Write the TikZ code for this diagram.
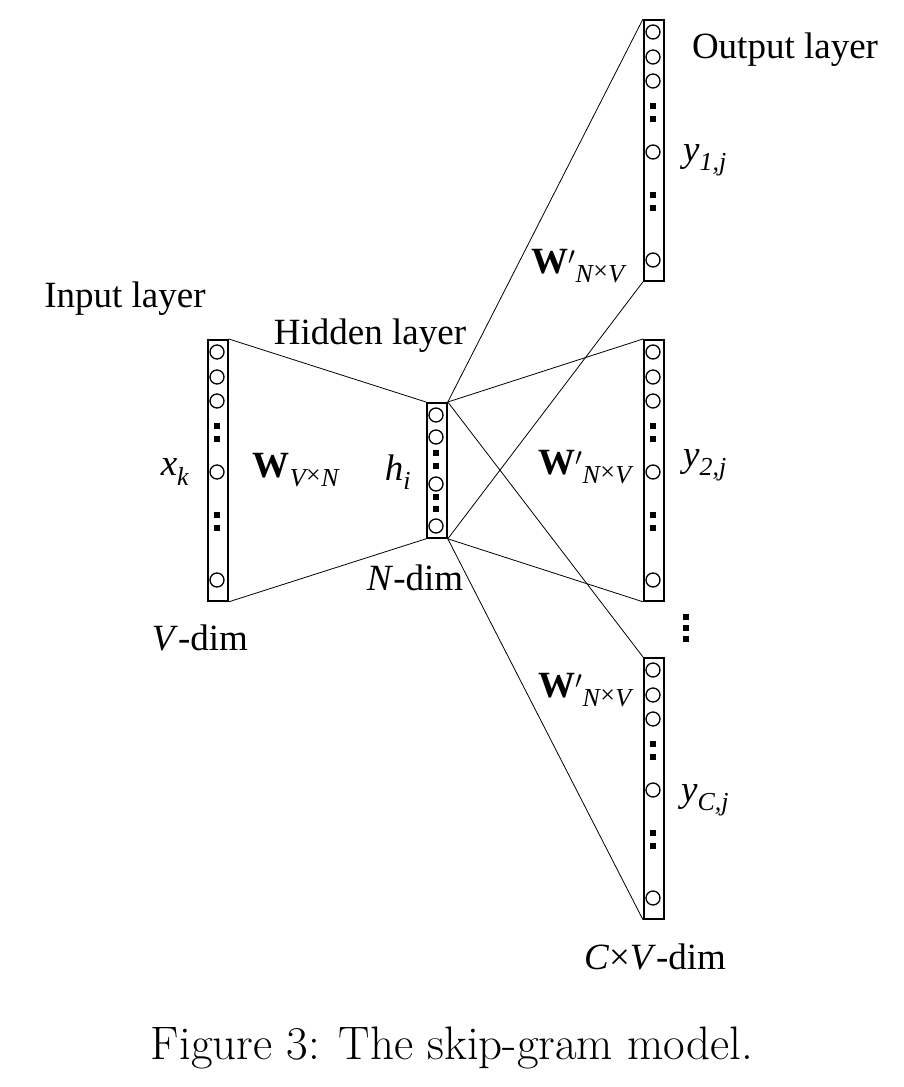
\documentclass[tikz,border=0pt]{standalone}
\usepackage{fontspec}
\setmainfont{Liberation Serif}
\newfontfamily\lmfont{Latin Modern Roman}
\newcommand{\mysub}[1]{\textsubscript{\itshape #1}}
\begin{document}
\begin{tikzpicture}[x=1pt,y=-1pt,
  col/.style={draw,line width=1.8pt,minimum width=20pt,inner sep=0pt,anchor=north west},
  neu/.style={circle,draw,line width=1.3pt,minimum size=14pt,inner sep=0pt},
  sq/.style={fill=black,minimum size=6pt,inner sep=0pt},
  lbl/.style={font=\fontsize{37}{40}\selectfont},
  ln/.style={line width=0.8pt}]
\useasboundingbox (0,0) rectangle (903,1087);
% columns
\node[col,minimum height=261pt] (in) at (207,339) {};
\node[col,minimum height=135pt] (hid) at (426,402) {};
\node[col,minimum height=261pt] (o1) at (643,19) {};
\node[col,minimum height=261pt] (o2) at (643,339) {};
\node[col,minimum height=261pt] (oc) at (643,657) {};
\foreach \x/\t in {217/339,653/19,653/339,653/657}{
  \foreach \d in {13,38,62,133,241} \node[neu] at (\x,\t+\d) {};
  \foreach \d in {87,100,176,189} \node[sq] at (\x,\t+\d) {};
}
\foreach \y in {415,437,484,526} \node[neu] at (436,\y) {};
\foreach \y in {453,466,497,509} \node[sq] at (436,\y) {};
% connections
\draw[ln] (in.north east) -- (hid.north west);
\draw[ln] (in.south east) -- (hid.south west);
\foreach \o in {o1,o2,oc}{
  \draw[ln] (hid.north east) -- (\o.north west);
  \draw[ln] (hid.south east) -- (\o.south west);
}
% labels
\node[lbl] (t1) at (125,299) {Input layer};
\node[lbl] (t2) at (370,336) {Hidden layer};
\node[lbl] (t3) at (785,50) {Output layer};
\node[lbl] (xk) at (175,472) {\textit{x}\mysub{k}};
\node[lbl] (w1) at (296,470) {\textbf{W}\mysub{V}\textsubscript{×}\mysub{N}};
\node[lbl] (hi) at (398,472) {\textit{h}\mysub{i}};
\node[lbl] (nd) at (415,578) {\textit{N}-dim};
\node[lbl] (vd) at (200,638) {\textit{V}-dim};
\node[lbl] (w2) at (578,266) {\textbf{W}$'$\mysub{N}\textsubscript{×}\mysub{V}};
\node[lbl] (w3) at (585,467) {\textbf{W}$'$\mysub{N}\textsubscript{×}\mysub{V}};
\node[lbl] (w4) at (585,690) {\textbf{W}$'$\mysub{N}\textsubscript{×}\mysub{V}};
\node[lbl] (y1) at (705,160) {\textit{y}\mysub{1,j}};
\node[lbl] (y2) at (705,465) {\textit{y}\mysub{2,j}};
\node[lbl] (yc) at (705,800) {\textit{y}\mysub{C,j}};
\node[lbl] (cv) at (655,957) {\textit{C}×\textit{V}-dim};
\node[sq] (d1) at (686,617) {};
\node[sq] (d2) at (686,628) {};
\node[sq] (d3) at (686,639) {};
\node[font=\lmfont\fontsize{47}{50}\selectfont] (cap) at (452,1048) {Figure 3: The skip-gram model.};
\end{tikzpicture}
\end{document}
